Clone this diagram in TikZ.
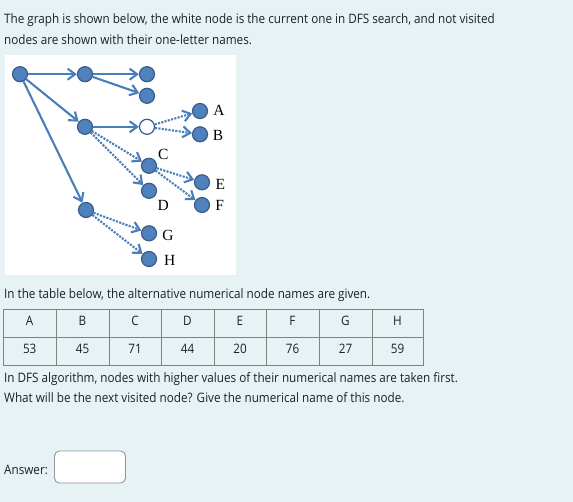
\documentclass[tikz,border=0pt]{standalone}
\usepackage{fontspec}
\setmainfont{Open Sans}[FakeStretch=0.9]
\newfontfamily\graphfont{Liberation Serif}
\usetikzlibrary{arrows.meta}
\definecolor{bg}{RGB}{231,242,245}
\definecolor{nodeblue}{RGB}{79,129,189}
\definecolor{nodeedge}{RGB}{56,93,138}
\definecolor{edgeblue}{RGB}{74,126,187}
\definecolor{txt}{RGB}{29,33,37}
\definecolor{grid}{RGB}{128,128,128}
\definecolor{boxgray}{RGB}{143,149,158}
\begin{document}
\begin{tikzpicture}[x=1pt,y=-1pt,
  vtx/.style={circle,fill=nodeblue,draw=nodeedge,line width=1.2pt,minimum size=15pt,inner sep=0pt},
  cur/.style={vtx,fill=white},
  sol/.style={draw=edgeblue,line width=2.1pt,-{Straight Barb[length=7.5pt,width=11pt]}},
  dotl/.style={sol,dash pattern=on 2.1pt off 1.3pt},
  lbl/.style={font=\graphfont\fontsize{15.5}{16}\selectfont,inner sep=0pt,text=black},
  para/.style={font=\fontsize{13}{15}\selectfont,text=txt,inner sep=0pt,anchor=base west},
  cell/.style={font=\fontsize{13}{15}\selectfont,text=txt,inner sep=0pt,anchor=base}
]
\useasboundingbox (0,0) rectangle (573,502);
\fill[bg] (0,0) rectangle (573,502);

% texts
\node[para] (t1) at (4,24) {The graph is shown below, the white node is the current one in DFS search, and not visited};
\node[para] (t2) at (4,44.5) {nodes are shown with their one-letter names.};

% graph panel
\fill[white] (5,55) rectangle (236,275);

\node[vtx] (r) at (20,74.2) {};
\node[vtx] (n1) at (85,74.2) {};
\node[vtx] (n2) at (147,74.2) {};
\node[vtx] (n3) at (147,95.8) {};
\node[vtx] (n4) at (85,126.8) {};
\node[cur] (w) at (147,126.8) {};
\node[vtx] (A) at (200,111) {};
\node[vtx] (B) at (200,134.3) {};
\node[vtx] (C) at (149,165.8) {};
\node[vtx] (D) at (149,190.8) {};
\node[vtx] (E) at (202,182.3) {};
\node[vtx] (F) at (202,205) {};
\node[vtx] (n5) at (86,210) {};
\node[vtx] (G) at (149,233.3) {};
\node[vtx] (H) at (149,259) {};

\node[lbl] (lA) at (219,110.7) {A};
\node[lbl] (lB) at (218,135) {B};
\node[lbl] (lC) at (163.3,154.7) {C};
\node[lbl] (lD) at (163.3,205) {D};
\node[lbl] (lE) at (220.3,184.7) {E};
\node[lbl] (lF) at (219.7,205) {F};
\node[lbl] (lG) at (168,235.3) {G};
\node[lbl] (lH) at (169.7,260) {H};

\draw[sol] (r) -- (n1);
\draw[sol] (n1) -- (n2);
\draw[sol] (n1) -- (n3);
\draw[sol] (r) -- (n4);
\draw[sol] (r) -- (n5);
\draw[sol] (n4) -- (w);
\draw[dotl] (w) -- (A);
\draw[dotl] (w) -- (B);
\draw[dotl] (n4) -- (C);
\draw[dotl] (n4) -- (D);
\draw[dotl] (C) -- (E);
\draw[dotl] (C) -- (F);
\draw[dotl] (n5) -- (G);
\draw[dotl] (n5) -- (H);

% table
\node[para] (t3) at (4,299) {In the table below, the alternative numerical node names are given.};
\draw[grid,line width=0.8pt] (3.3,309) rectangle (423,365);
\draw[grid,line width=0.8pt] (3.3,337) -- (423,337);
\foreach \x in {56,109,161,214,266,319,372} {
  \draw[grid,line width=0.8pt] (\x,309) -- (\x,365);
}
\foreach \name/\val/\cx [count=\i] in {A/53/29.7,B/45/82.5,C/71/135,D/44/187.5,E/20/240,F/76/292.5,G/27/345.5,H/59/397.5} {
  \node[cell] (h\i) at (\cx,326) {\name};
  \node[cell] (v\i) at (\cx,354) {\val};
}
\node[para] (t4) at (4,382.7) {In DFS algorithm, nodes with higher values of their numerical names are taken first.};
\node[para] (t5) at (4,402.3) {What will be the next visited node? Give the numerical name of this node.};

% answer
\node[para] (ans) at (4,475) {Answer:};
\draw[boxgray,fill=white,line width=0.9pt,rounded corners=5pt] (54.5,451) rectangle (125.5,483);
\end{tikzpicture}
\end{document}
